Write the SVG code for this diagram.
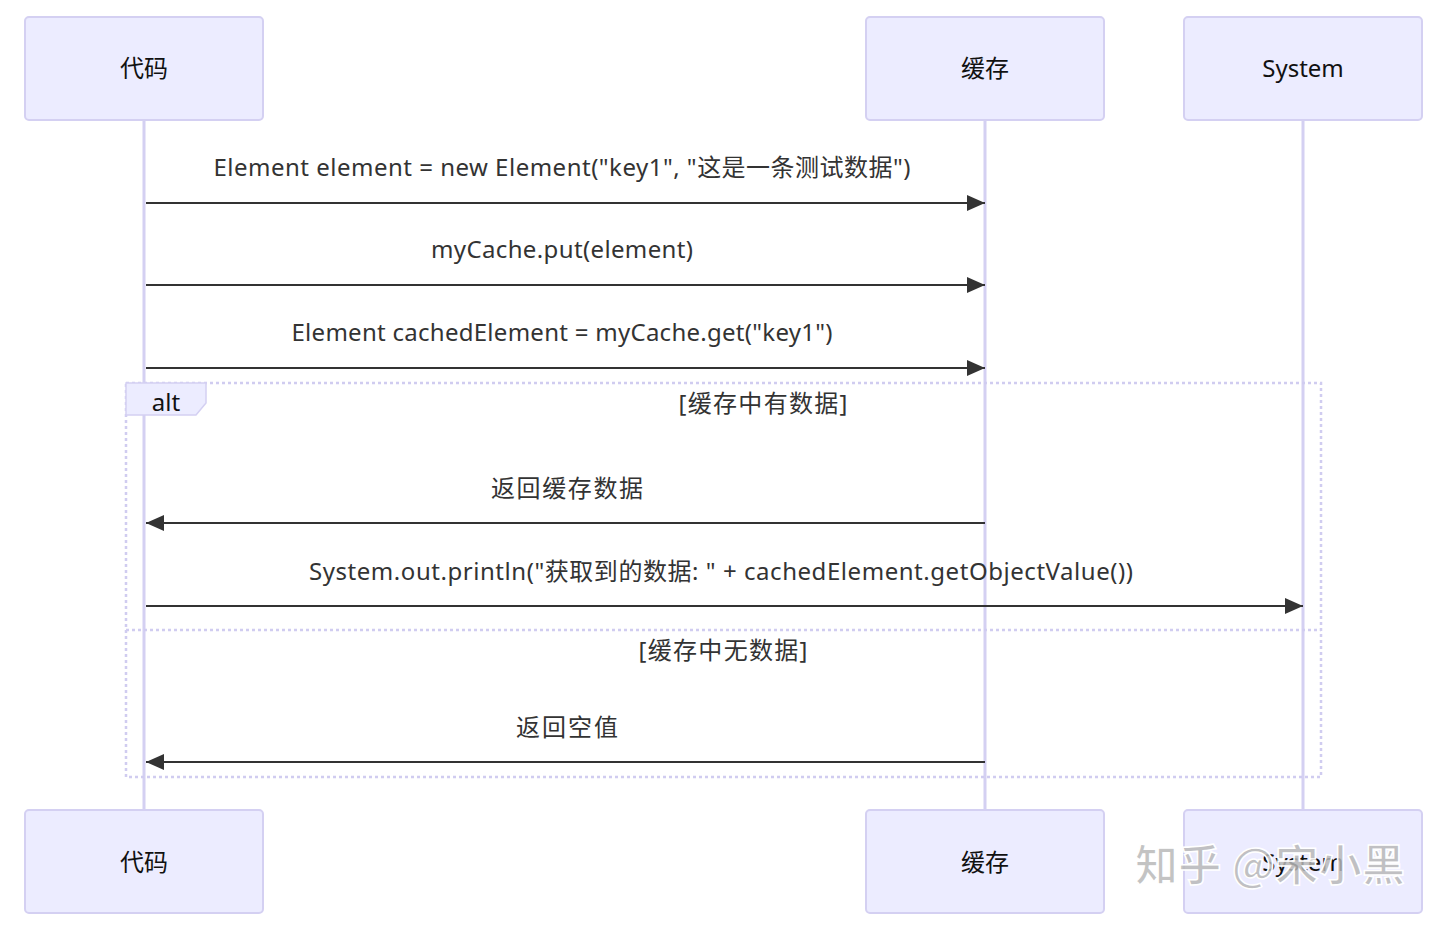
<svg xmlns="http://www.w3.org/2000/svg" width="1440" height="925" viewBox="0 0 1440 925">
<style>
.actor{fill:#ECECFF;stroke:#D4D0F2;stroke-width:2}
.life{stroke:#D4D0F2;stroke-width:3}
.msg{stroke:#333;stroke-width:2;fill:none}
.t{font-family:"Noto Sans","Noto Sans CJK SC",sans-serif;font-size:24px;fill:#333;text-anchor:middle}
.at{font-family:"Noto Sans","Noto Sans CJK SC",sans-serif;font-size:24px;fill:#111;text-anchor:middle}
.frame{fill:none;stroke:#D0CCF0;stroke-width:2.5;stroke-dasharray:3 3}
.wm{font-family:"Noto Sans CJK SC",sans-serif;font-size:43px;fill:#b8b8b8;fill-opacity:0.85;stroke:#ffffff;stroke-width:1.5;font-weight:bold}
</style>
<defs>
<marker id="ah" viewBox="0 0 18 16" refX="18" refY="8" markerWidth="18" markerHeight="16" markerUnits="userSpaceOnUse" orient="auto">
<path d="M0,0 L18,8 L0,16 Z" fill="#333"/>
</marker>
</defs>
<rect width="1440" height="925" fill="#ffffff"/>
<g id="lifelines">
<line class="life" x1="144" y1="120" x2="144" y2="810"/>
<line class="life" x1="985" y1="120" x2="985" y2="810"/>
<line class="life" x1="1303" y1="120" x2="1303" y2="810"/>
</g>
<g id="alt-frame">
<rect class="frame" x="126" y="383" width="1195" height="394"/>
<line class="frame" x1="126" y1="630" x2="1321" y2="630"/>
<polygon points="126,383 206,383 206,403 196,415 126,415" fill="#ECECFF" stroke="#D4D0F2" stroke-width="1.5"/>
<text class="at" x="166" y="411">alt</text>
<text class="t" x="763" y="412" textLength="169">[缓存中有数据]</text>
<text class="t" x="723" y="659" textLength="169">[缓存中无数据]</text>
</g>
<g id="actor-code-top"><rect class="actor" x="25" y="17" width="238" height="103" rx="4"/><text class="at" x="144" y="77">代码</text></g>
<g id="actor-cache-top"><rect class="actor" x="866" y="17" width="238" height="103" rx="4"/><text class="at" x="985" y="77">缓存</text></g>
<g id="actor-system-top"><rect class="actor" x="1184" y="17" width="238" height="103" rx="4"/><text class="at" x="1303" y="77">System</text></g>
<g id="actor-code-bottom"><rect class="actor" x="25" y="810" width="238" height="103" rx="4"/><text class="at" x="144" y="871">代码</text></g>
<g id="actor-cache-bottom"><rect class="actor" x="866" y="810" width="238" height="103" rx="4"/><text class="at" x="985" y="871">缓存</text></g>
<g id="actor-system-bottom"><rect class="actor" x="1184" y="810" width="238" height="103" rx="4"/><text class="at" x="1303" y="871">System</text></g>
<g id="connectors">
<line class="msg" x1="146" y1="203" x2="985" y2="203" marker-end="url(#ah)"/>
<text class="t" x="562" y="176" textLength="697">Element element = new Element("key1", "这是一条测试数据")</text>
<line class="msg" x1="146" y1="285" x2="985" y2="285" marker-end="url(#ah)"/>
<text class="t" x="562" y="258" textLength="262">myCache.put(element)</text>
<line class="msg" x1="146" y1="368" x2="985" y2="368" marker-end="url(#ah)"/>
<text class="t" x="562" y="341" textLength="541">Element cachedElement = myCache.get("key1")</text>
<line class="msg" x1="985" y1="523" x2="146" y2="523" marker-end="url(#ah)"/>
<text class="t" x="567" y="497" textLength="152">返回缓存数据</text>
<line class="msg" x1="146" y1="606" x2="1303" y2="606" marker-end="url(#ah)"/>
<text class="t" x="721" y="580" textLength="824">System.out.println("获取到的数据: " + cachedElement.getObjectValue())</text>
<line class="msg" x1="985" y1="762" x2="146" y2="762" marker-end="url(#ah)"/>
<text class="t" x="567" y="736" textLength="102">返回空值</text>
</g>
<text class="wm" x="1135" y="881" textLength="270">知乎 @宋小黑</text>
</svg>
